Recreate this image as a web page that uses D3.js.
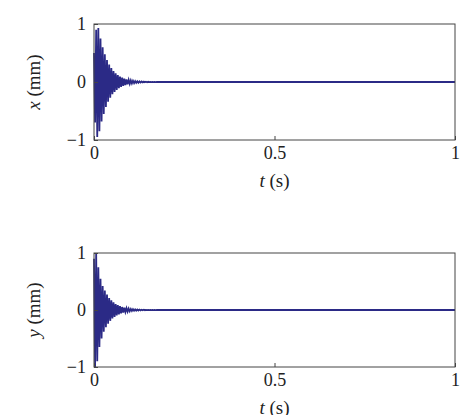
<!DOCTYPE html>
<html><head><meta charset="utf-8">
<script src="https://cdn.jsdelivr.net/npm/d3@7"></script>
<style>body{margin:0;background:#fff}text{font-family:"Liberation Serif","Times New Roman",Times,serif}</style>
</head><body><div id="chart"></div>
<script>
const times = [0,0.003,0.006,0.009,0.012,0.015,0.018,0.021,0.024,0.027,0.03,0.033,0.036,0.039,0.042,0.045,0.048,0.051,0.054,0.057,0.06,0.063,0.066,0.069,0.072,0.075,0.078,0.081,0.084,0.087,0.09,0.093,0.096,0.099,0.102,0.105,0.108,0.111,0.114,0.117,0.12,0.123,0.126,0.129,0.132,0.135,0.138,0.141,0.144,0.147,0.15,0.153,0.156,0.159,0.162,0.165,0.168,0.171,0.174,0.177,1];
const xValues = [0.5,-0.7,0.9,-0.95,0.93,-0.85,0.75,-0.68,0.6,-0.55,0.48,-0.43,0.38,-0.34,0.3,-0.27,0.24,-0.21,0.19,-0.17,0.15,-0.135,0.12,-0.105,0.095,-0.085,0.075,-0.066,0.058,-0.052,0.046,-0.041,0.036,-0.032,0.028,-0.025,0.022,-0.019,0.017,-0.015,0.013,-0.012,0.010,-0.009,0.008,-0.007,0.006,-0.005,0.0045,-0.004,0.0035,-0.003,0.0025,-0.002,0.002,-0.0015,0.0015,-0.001,0.001,0,0];
const yValues = [0.9,-1.0,1.0,-0.9,0.75,-0.65,0.55,-0.5,0.42,-0.38,0.34,-0.3,0.27,-0.24,0.21,-0.19,0.17,-0.15,0.135,-0.12,0.105,-0.095,0.085,-0.075,0.066,-0.058,0.052,-0.046,0.041,-0.036,0.032,-0.028,0.025,-0.022,0.019,-0.017,0.015,-0.013,0.012,-0.010,0.009,-0.008,0.007,-0.006,0.005,-0.0045,0.004,-0.0035,0.003,-0.0025,0.002,-0.002,0.0015,-0.0015,0.001,-0.001,0.001,-0.0005,0.0005,0,0];
const xTicks = [0, 0.5, 1];
const yTicks = [-1, 0, 1];

const svg = d3.select("#chart").append("svg").attr("width", 474).attr("height", 415);
const left = 94, width = 361;

function panel(top, height, values, name) {
  const x = d3.scaleLinear().domain([0, 1]).range([left, left + width]);
  const y = d3.scaleLinear().domain([-1, 1]).range([top + height, top]);
  const g = svg.append("g");

  g.append("path")
    .datum(values)
    .attr("fill", "none")
    .attr("stroke", "#2b2a86")
    .attr("stroke-width", 1.8)
    .attr("d", d3.line().x((d, i) => x(times[i])).y(d => y(d)));

  const ax = g.append("g").attr("transform", "translate(0," + (top + height) + ")")
    .call(d3.axisBottom(x).tickValues(xTicks).tickFormat(d3.format("")).tickSizeInner(-4).tickSizeOuter(0).tickPadding(6));
  const ay = g.append("g").attr("transform", "translate(" + left + ",0)")
    .call(d3.axisLeft(y).tickValues(yTicks).tickFormat(d => d < 0 ? "\u22121" : d).tickSizeInner(-4).tickSizeOuter(0).tickPadding(8));
  [ax, ay].forEach(a => {
    a.selectAll("text").attr("font-size", 18).attr("fill", "#222");
    a.select(".domain").remove();
    a.selectAll("line").attr("stroke", "#444");
  });

  g.append("rect").attr("x", left).attr("y", top).attr("width", width).attr("height", height)
    .attr("fill", "none").attr("stroke", "#444").attr("stroke-width", 1);

  const xl = g.append("text").attr("x", left + width / 2).attr("y", top + height + 47)
    .attr("text-anchor", "middle").attr("font-size", 19).attr("fill", "#222");
  xl.append("tspan").attr("font-style", "italic").text("t");
  xl.append("tspan").text(" (s)");

  const yl = g.append("text").attr("transform", "translate(40," + (top + height / 2) + ") rotate(-90)")
    .attr("text-anchor", "middle").attr("font-size", 19).attr("fill", "#222");
  yl.append("tspan").attr("font-style", "italic").text(name);
  yl.append("tspan").text(" (mm)");
}

panel(24, 116, xValues, "x");
panel(253, 114, yValues, "y");
</script></body></html>
